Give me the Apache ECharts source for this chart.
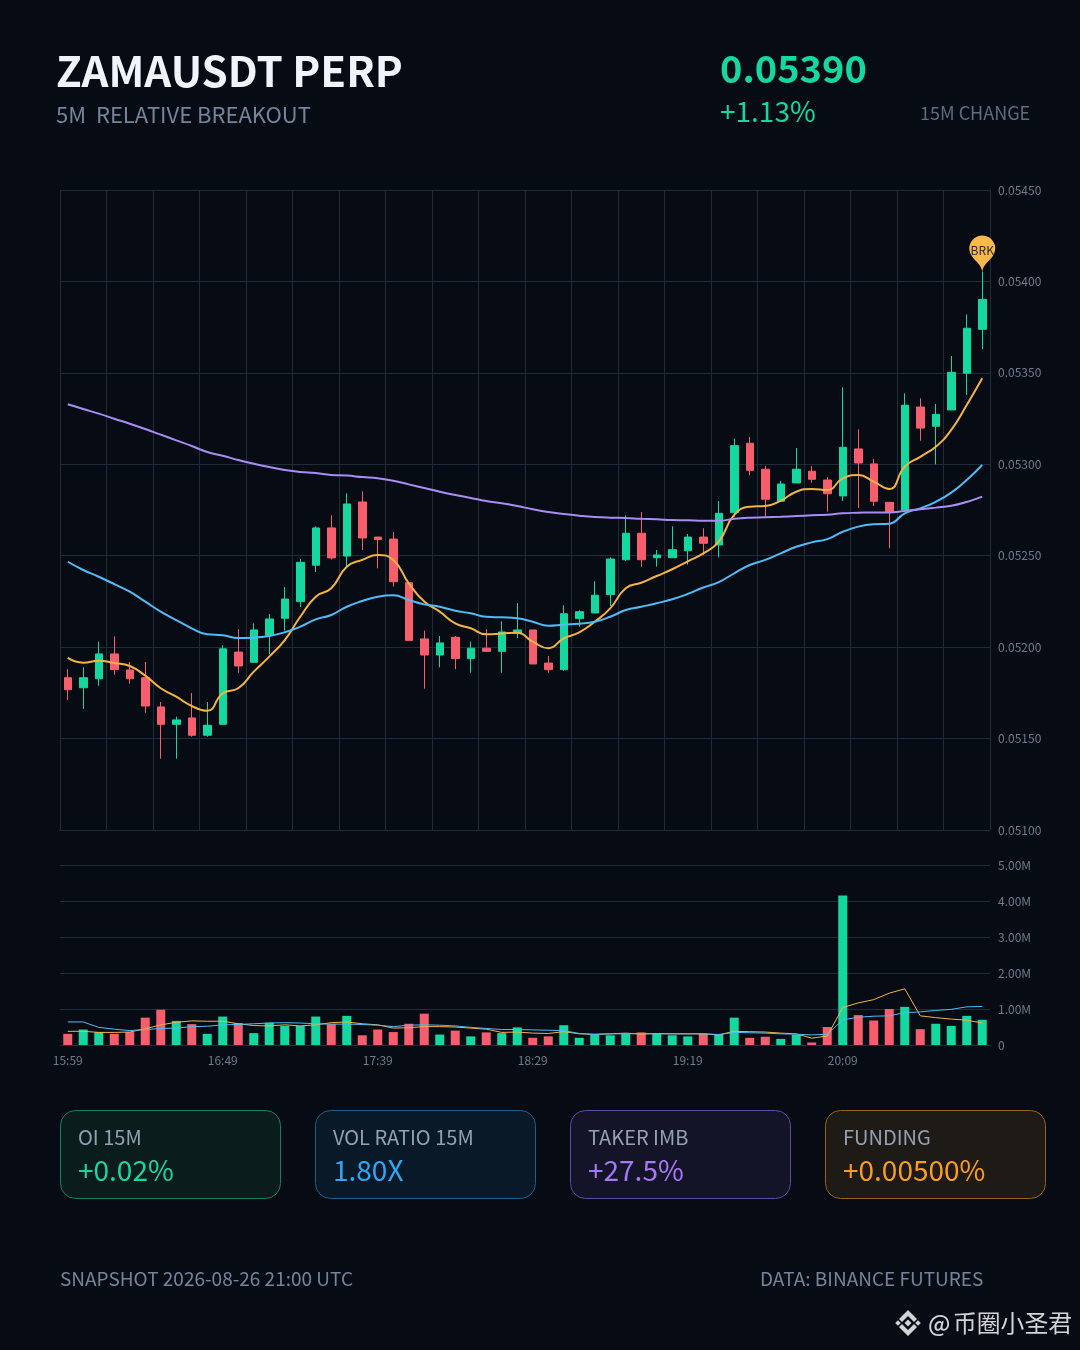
<!DOCTYPE html>
<html><head><meta charset="utf-8">
<style>html,body{margin:0;padding:0;background:#070b13}#c{width:1080px;height:1350px}</style>
<script src="https://cdn.jsdelivr.net/npm/echarts@6/dist/echarts.min.js"></script>
</head><body><div id="c"></div>
<script>
const timeLabels = ['15:59','16:04','16:09','16:14','16:19','16:24','16:29','16:34','16:39','16:44','16:49','16:54','16:59','17:04','17:09','17:14','17:19','17:24','17:29','17:34','17:39','17:44','17:49','17:54','17:59','18:04','18:09','18:14','18:19','18:24','18:29','18:34','18:39','18:44','18:49','18:54','18:59','19:04','19:09','19:14','19:19','19:24','19:29','19:34','19:39','19:44','19:49','19:54','19:59','20:04','20:09','20:14','20:19','20:24','20:29','20:34','20:39','20:44','20:49','20:54'];
const isUp = [0,1,1,0,0,0,0,1,0,1,1,0,1,1,1,1,1,0,1,0,0,0,0,0,1,0,1,0,1,1,0,0,1,1,1,1,1,0,1,1,1,0,1,1,0,0,1,1,0,0,1,0,0,0,1,0,1,1,1,1];
// body top / bottom and wick high / low, in price
const bodyTop = [.051833,.051833,.051963,.051963,.051875,.051833,.051673,.051602,.051613,.051573,.051991,.051973,.052094,.052154,.052263,.052464,.052652,.052652,.052783,.052794,.052602,.052591,.052352,.052045,.052023,.052054,.051994,.051994,.052083,.052094,.052094,.051913,.052183,.052194,.052284,.052482,.052623,.052623,.052504,.052533,.052602,.052602,.052732,.053102,.053115,.052973,.052892,.052973,.052962,.052914,.053093,.053084,.053002,.052792,.053323,.053313,.053273,.053503,.053744,.053902];
const bodyBot = [.051767,.051778,.051827,.051877,.051827,.051678,.051578,.051578,.051518,.051518,.051578,.051897,.051917,.052065,.052158,.052249,.052448,.052488,.052498,.052597,.052588,.052358,.052037,.051957,.051957,.051937,.051937,.051977,.051977,.052076,.051908,.051877,.051877,.052156,.052187,.052287,.052478,.052478,.052489,.052489,.052527,.052568,.052559,.052737,.052967,.052809,.052798,.052898,.052918,.052839,.052827,.053007,.052798,.052739,.05275,.053198,.053208,.053297,.053498,.053738];
const wickHigh = [.05188,.05189,.05203,.052059,.051919,.051919,.0517,.05162,.051749,.0517,.05201,.052099,.05213,.052181,.052329,.052482,.052661,.052721,.052841,.052852,.052602,.05263,.052352,.05209,.052061,.052061,.05203,.052099,.052141,.052241,.052094,.051952,.052229,.052201,.05236,.052491,.052721,.052739,.052531,.052661,.052619,.05265,.052799,.05314,.053149,.052991,.05291,.053089,.052991,.05293,.053421,.053191,.053029,.052792,.053388,.053361,.05333,.053592,.05382,.054052];
const wickLow = [.051711,.051662,.051789,.051849,.0518,.051641,.05139,.05139,.05151,.05151,.051578,.05186,.051917,.051961,.05209,.05222,.052411,.05248,.05244,.052531,.052431,.052331,.052037,.051773,.05189,.05188,.05186,.051977,.05186,.05205,.051908,.05186,.051871,.052112,.052187,.052225,.052471,.05244,.05244,.052489,.052451,.052504,.052491,.052713,.05294,.052713,.052798,.052898,.052899,.052741,.052799,.052761,.052772,.052541,.05275,.053129,.053,.053297,.053379,.05363];
const emaFast = [.051941,.051915,.051926,.051913,.051897,.051844,.051775,.051729,.051678,.051652,.051748,.051775,.051866,.051948,.052039,.052166,.052276,.052322,.05244,.052477,.052504,.052477,.052349,.052249,.052194,.05213,.052103,.05207,.052074,.052079,.05203,.051994,.052048,.052081,.052139,.052212,.052322,.052352,.052389,.052426,.052469,.052513,.052577,.052723,.052768,.052772,.052801,.05285,.052865,.052859,.052923,.052941,.052905,.052865,.052987,.053041,.053096,.053188,.053324,.05347];
const emaMid = [.052467,.052422,.052385,.052345,.052303,.052249,.052194,.052148,.052103,.05207,.052065,.05205,.052052,.052061,.052081,.052112,.052152,.052176,.052221,.052252,.052276,.052284,.052258,.052234,.052221,.052199,.052185,.052166,.052163,.052158,.052139,.052117,.052123,.052128,.052139,.052166,.052203,.052221,.05224,.052262,.052291,.052326,.052356,.052404,.052449,.052477,.052513,.052549,.052573,.052591,.052631,.052659,.052672,.052675,.052732,.052759,.052795,.052845,.052914,.052996];
const emaSlow = [.053328,.053302,.053277,.053249,.053222,.053193,.053162,.053131,.0531,.053067,.053047,.053023,.053003,.052985,.052969,.052958,.052952,.052941,.052938,.05293,.052923,.05291,.05289,.05287,.05285,.052832,.052816,.052799,.052787,.052772,.052754,.052739,.052728,.052719,.052712,.052708,.052706,.052702,.052699,.052695,.052694,.052691,.052691,.052702,.052708,.05271,.052713,.052717,.052721,.052724,.052732,.052735,.052737,.052737,.052745,.052754,.052763,.052773,.052794,.052823];
const volumes = [.31,.43,.36,.31,.36,.76,.98,.67,.58,.31,.79,.61,.33,.62,.53,.53,.79,.58,.81,.27,.43,.36,.59,.87,.29,.40,.24,.35,.33,.49,.20,.24,.55,.20,.28,.27,.32,.35,.31,.27,.24,.31,.30,.76,.20,.23,.17,.28,.07,.50,4.15,.83,.68,1.0,1.06,.44,.59,.53,.81,.70];
const volFast = [.38,.38,.35,.35,.36,.45,.56,.63,.67,.66,.66,.59,.54,.53,.56,.53,.56,.62,.64,.59,.56,.47,.48,.51,.51,.50,.47,.44,.35,.36,.33,.32,.37,.31,.30,.31,.33,.30,.32,.31,.31,.31,.28,.38,.37,.36,.33,.31,.19,.25,1.04,1.17,1.26,1.44,1.56,.81,.76,.72,.69,.61];
const volSlow = [.64,.64,.49,.44,.40,.43,.46,.47,.51,.52,.56,.57,.59,.61,.62,.61,.59,.58,.58,.57,.55,.51,.55,.56,.55,.53,.49,.46,.43,.43,.42,.41,.40,.32,.29,.31,.31,.32,.31,.31,.31,.31,.29,.35,.34,.33,.31,.30,.28,.30,.70,.77,.80,.81,.90,.92,.96,.99,1.06,1.07];
const priceTicks = {min:.051, max:.0545, step:.0005};
const volTicks = {min:0, max:5000000, step:1000000};
const headline = {title:'ZAMAUSDT PERP', sub:'5M  RELATIVE BREAKOUT', price:'0.05390', change:'+1.13%', changeLabel:'15M CHANGE'};
const cards = [
 {label:'OI 15M', value:'+0.02%', c:'#1fd49c', bg:'#0b1c1c', bd:'#14805e'},
 {label:'VOL RATIO 15M', value:'1.80X', c:'#2ea6f5', bg:'#0a1928', bd:'#1c5f8e'},
 {label:'TAKER IMB', value:'+27.5%', c:'#a678f5', bg:'#141428', bd:'#614aa6'},
 {label:'FUNDING', value:'+0.00500%', c:'#f99d1c', bg:'#1e1a16', bd:'#96611c'}
];
const footer = {left:'SNAPSHOT 2026-08-26 21:00 UTC', right:'DATA: BINANCE FUTURES', at:'@', mark:'币圈小圣君'};

const UP='#14d8a0', DOWN='#f65e6e', GRID='#212c3a', FONT='"Noto Sans CJK SC","Noto Sans",sans-serif', AXT='#717b8c';
const candle = isUp.map((u,i)=> u ? [bodyBot[i],bodyTop[i],wickLow[i],wickHigh[i]] : [bodyTop[i],bodyBot[i],wickLow[i],wickHigh[i]]);
const volBars = volumes.map((v,i)=>({value:v*1e6,itemStyle:{color:isUp[i]?UP:DOWN}}));
const txt=(x,y,text,size,fill,weight,align)=>({type:'text',x,y,silent:true,style:{text,fontSize:size,fill,fontWeight:weight||400,fontFamily:FONT,textAlign:align||'left',textVerticalAlign:'middle'}});
const graphic=[
 txt(56,71,headline.title,42,'#f1f5fb',700),
 txt(56,115,headline.sub,22,'#74849b'),
 txt(720,69,headline.price,38,'#14d8a0',700),
 txt(720,111,headline.change,28,'#14d8a0'),
 txt(920,113,headline.changeLabel,18,'#5f6d80'),
 txt(60,1279,footer.left,19,'#74849b'),
 txt(760,1279,footer.right,19,'#74849b'),
 txt(928,1323,footer.at,23,'#d2d3d6',500),
 txt(953,1323,footer.mark,23.8,'#d2d3d6')
];
[60,315,570,825].forEach((x,i)=>{const c=cards[i];
 graphic.push({type:'rect',shape:{x:x+.5,y:1110.5,width:220,height:88,r:15},style:{fill:c.bg,stroke:c.bd,lineWidth:1},silent:true});
 graphic.push(txt(x+18,1137,c.label,20,'#95a1b3'));
 graphic.push(txt(x+18,1170,c.value,28,c.c));
});
// small diamond logo of the watermark
const LOGO='#d2d3d6';
[[908,1323,3.5],[898,1323,2.8],[918,1323,2.8]].forEach(d=>graphic.push({type:'polygon',shape:{points:[[d[0],d[1]-d[2]],[d[0]+d[2],d[1]],[d[0],d[1]+d[2]],[d[0]-d[2],d[1]]]},style:{fill:LOGO},silent:true}));
[[[908,1310],[917,1319],[914,1322],[908,1316],[902,1322],[899,1319]],[[908,1336],[917,1327],[914,1324],[908,1330],[902,1324],[899,1327]]].forEach(p=>graphic.push({type:'polygon',shape:{points:p},style:{fill:LOGO},silent:true}));

const chart=echarts.init(document.getElementById('c'),null,{renderer:'canvas',width:1080,height:1350});
const ln=(name,data,color,w,xi,yi,smooth)=>({name,type:'line',data,xAxisIndex:xi,yAxisIndex:yi,symbol:'none',smooth,lineStyle:{color,width:w},silent:true,z:4});
chart.setOption({
 animation:false, backgroundColor:'#070b13', graphic:{elements:graphic},
 textStyle:{fontFamily:FONT},
 grid:[{left:60,right:90,top:190,height:640},{left:60,right:90,top:865,height:180}],
 xAxis:[
  {type:'category',data:timeLabels,gridIndex:0,axisLine:{lineStyle:{color:GRID}},axisTick:{show:false},axisLabel:{show:false},splitLine:{show:true,interval:2,lineStyle:{color:GRID,width:1}}},
  {type:'category',data:timeLabels,gridIndex:1,axisLine:{lineStyle:{color:GRID}},axisTick:{show:false},axisLabel:{interval:9,color:AXT,fontSize:12,margin:9,hideOverlap:false},splitLine:{show:false}}
 ],
 yAxis:[
  {type:'value',gridIndex:0,position:'right',min:priceTicks.min,max:priceTicks.max,interval:priceTicks.step,scale:true,axisLine:{show:true,lineStyle:{color:GRID}},axisTick:{show:false},axisLabel:{color:AXT,fontSize:12,margin:8,padding:[2,0,0,0],formatter:v=>v.toFixed(5)},splitLine:{show:true,lineStyle:{color:GRID}}},
  {type:'value',gridIndex:1,position:'right',min:volTicks.min,max:volTicks.max,interval:volTicks.step,axisLine:{show:false},axisTick:{show:false},axisLabel:{color:AXT,fontSize:12,margin:8,padding:[2,0,0,0],formatter:v=>v===0?'0':(v/1e6).toFixed(2)+'M'},splitLine:{show:true,lineStyle:{color:GRID}}}
 ],
 series:[
  {name:'kline',type:'candlestick',data:candle,xAxisIndex:0,yAxisIndex:0,barWidth:8,itemStyle:{color:UP,color0:DOWN,borderColor:UP,borderColor0:DOWN,borderWidth:1},silent:true,z:3,
   markPoint:{symbol:'pin',symbolSize:43,symbolOffset:[0,1],silent:true,data:[{coord:[59,wickHigh[59]]}],itemStyle:{color:'#f8b84a'},label:{formatter:'BRK',color:'#2a2a2a',fontSize:12,fontFamily:FONT}}},
  ln('fast',emaFast,'#f5b342',2,0,0,true),
  ln('mid',emaMid,'#4fbcf7',2,0,0,true),
  ln('slow',emaSlow,'#a98df5',2,0,0,true),
  {name:'vol',type:'bar',data:volBars,xAxisIndex:1,yAxisIndex:1,barWidth:9,silent:true,z:3},
  ln('vfast',volFast.map(v=>v*1e6),'#f5b342',1,1,1,false),
  ln('vslow',volSlow.map(v=>v*1e6),'#4fbcf7',1,1,1,false)
 ]
});
</script></body></html>
